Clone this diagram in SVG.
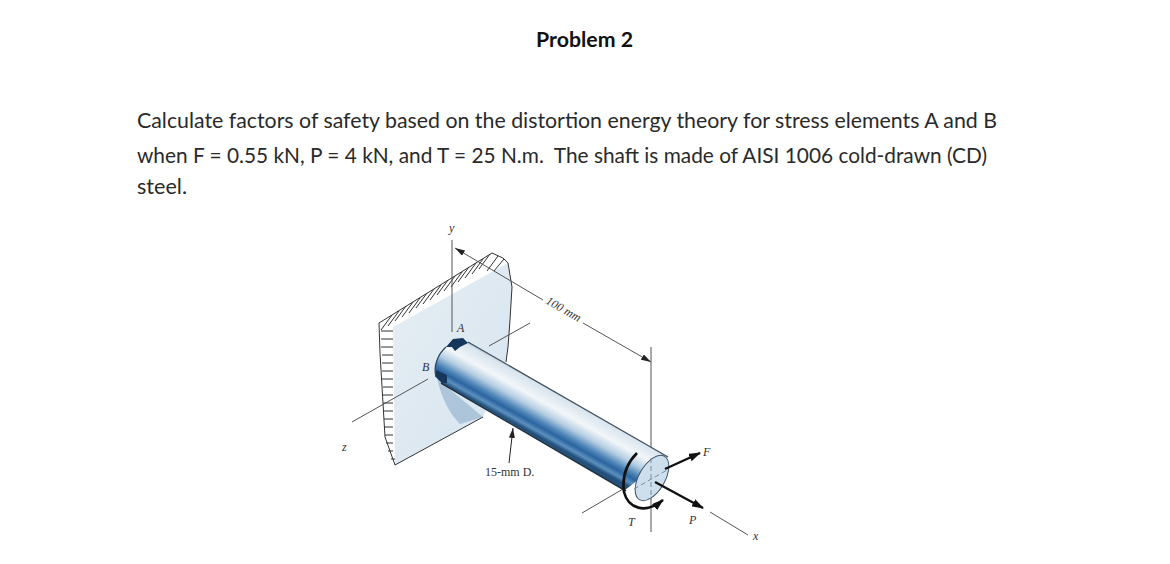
<svg xmlns="http://www.w3.org/2000/svg" width="1170" height="564" viewBox="0 0 1170 564">
<style>
.t{font-family:"Lato","Liberation Sans",sans-serif;font-size:21.5px;fill:#2a2a2a}
.b{font-weight:700;fill:#111}
.s{font-family:"Liberation Serif",serif;font-size:12px;fill:#333}
.i{font-style:italic}
.thin{stroke:#555;stroke-width:1;fill:none}
.hatch{stroke:#333;stroke-width:1;fill:none}
.force{stroke:#111;stroke-width:2.4;fill:none}
</style>
<defs>
<linearGradient id="sh" gradientUnits="userSpaceOnUse" x1="469" y1="341" x2="445" y2="384">
<stop offset="0" stop-color="#8ea5b8"/><stop offset=".08" stop-color="#d8e4ee"/><stop offset=".35" stop-color="#f2f6f9"/><stop offset=".55" stop-color="#b4cde2"/><stop offset=".72" stop-color="#4f86b8"/><stop offset=".82" stop-color="#2b649f"/><stop offset=".92" stop-color="#5c90bf"/><stop offset="1" stop-color="#24507c"/>
</linearGradient>
<linearGradient id="pl" x1="0" y1="0" x2="1" y2="1"><stop offset="0" stop-color="#e6eef4"/><stop offset="1" stop-color="#d6e4ef"/></linearGradient>
<marker id="ah" viewBox="0 0 10 6" refX="10" refY="3" markerWidth="10" markerHeight="6" orient="auto-start-reverse" markerUnits="userSpaceOnUse"><path d="M0 0L10 3L0 6z" fill="#222"/></marker>
<marker id="fh" viewBox="0 0 12 8" refX="11" refY="4" markerWidth="12" markerHeight="8" orient="auto" markerUnits="userSpaceOnUse"><path d="M0 0L12 4L0 8z" fill="#111"/></marker>
</defs>
<rect width="1170" height="564" fill="#fff"/>
<g id="text-block">
<text class="t b" x="536" y="47" textLength="97" lengthAdjust="spacingAndGlyphs">Problem 2</text>
<text class="t" x="137" y="128" textLength="860" lengthAdjust="spacingAndGlyphs">Calculate factors of safety based on the distortion energy theory for stress elements A and B</text>
<text class="t" x="137" y="163" textLength="850" lengthAdjust="spacingAndGlyphs" xml:space="preserve">when F = 0.55 kN, P = 4 kN, and T = 25 N.m.  The shaft is made of AISI 1006 cold-drawn (CD)</text>
<text class="t" x="137" y="194" textLength="50" lengthAdjust="spacingAndGlyphs">steel.</text>
</g>
<g id="wall">
<path d="M393 327L508 263L512 287L510 320L508 347L506 362L483 417L395 465Z" fill="url(#pl)"/>
<path d="M437 378L442 383L483 417L460 424C450 414 442 400 437 378Z" fill="#9db9d1" opacity=".75"/>
<path d="M379 323L492 253L503 258L508 263L512 287L510 320L508 347L506 362" class="hatch"/>
<path d="M379 323L380 353L385 437L395 465L483 417" class="hatch"/>
<path class="hatch" d="M392 315L381 330M399 311L388 326M406 306L395 321M413 302L402 317M420 298L409 313M427 293L416 308M434 289L423 304M441 285L430 300M448 280L437 295M455 276L444 291M462 272L451 287M469 267L458 282M476 263L465 278M483 259L472 274M490 254L479 269M498 256L487 271M504 259L494 271"/>
<path class="hatch" d="M381 331H393M381 339H393M381 347H393M382 355H393M382 363H393M382 371H393M382 379H393M383 387H393M383 395H393M383 403H393M384 411H393M384 419H393M384 427H393M385 435H393M386 443H393M388 451H393M391 459H395"/>
</g>
<g id="connectors">
<path class="thin" d="M452 240V332"/>
<path class="thin" d="M455 248L543 300" marker-start="url(#ah)" stroke="#444"/>
<path class="thin" d="M583 323L651 362" marker-end="url(#ah)" stroke="#444"/>
<path class="thin" d="M651 347V532"/>
<path class="thin" d="M489 346L530 323"/>
<path class="thin" d="M428 379L352 422"/>
<path class="thin" d="M623 489L582 513"/>
<path class="thin" d="M710 512L748 535"/>
<path d="M509 463L513 428" stroke="#222" stroke-width="1" marker-end="url(#ah)"/>
</g>
<g id="shaft">
<path d="M468 342L668 457L625 490L442 383L436 377C433 366 438 354 446 347C452 341 460 339 468 342Z" fill="url(#sh)"/>
<path d="M468 342L668 457" stroke="#3f4f5c" stroke-width="1.2" fill="none"/>
<path d="M441 383L626 491" stroke="#1d3040" stroke-width="1.5" fill="none"/>
<path d="M446 347L453 339L463 338L468 343L460 347L455 351L452 347Z" fill="#16365c"/>
<path d="M436 370L447 375L447 383L442 383L436 377Z" fill="#16365c"/>
<path d="M446 347C438 354 433 366 436 377" stroke="#28435e" stroke-width="1.2" fill="none"/>
<ellipse cx="652" cy="478" rx="13" ry="25" transform="rotate(30 652 478)" fill="#cddeec" stroke="#3e5566" stroke-width="1"/>
<path d="M634 489L667 470M651 458V500" stroke="#7c8d9b" stroke-width="1" stroke-dasharray="5 3" fill="none"/>
</g>
<g id="forces">
<path class="force" d="M665 469L700 453" marker-end="url(#fh)"/>
<path class="force" d="M655 482L703 508" marker-end="url(#fh)"/>
<path d="M637 453C626 464 622 478 624 492C628 508 645 515 663 500" stroke="#111" stroke-width="2.6" fill="none" marker-end="url(#fh)"/>
</g>
<g id="labels">
<text class="s i" x="449" y="232" font-size="11">y</text>
<text class="s i" x="457" y="332">A</text>
<text class="s i" x="422" y="371">B</text>
<text class="s i" x="342" y="451" font-size="11">z</text>
<text class="s" x="485" y="476" font-size="12">15-mm D.</text>
<text class="s i" x="545" y="303" transform="rotate(30 545 303)">100 mm</text>
<text class="s i" x="703" y="456">F</text>
<text class="s i" x="628" y="526">T</text>
<text class="s i" x="689" y="524">P</text>
<text class="s i" x="753" y="540" font-size="11">x</text>
</g>
</svg>
